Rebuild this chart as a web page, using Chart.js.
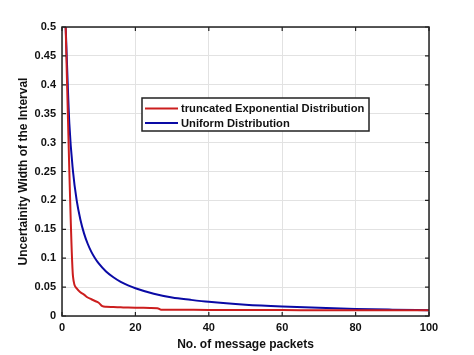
<!DOCTYPE html>
<html>
<head>
<meta charset="utf-8">
<script src="https://cdn.jsdelivr.net/npm/chart.js@4/dist/chart.umd.min.js"></script>
<style>
  html, body { margin: 0; padding: 0; background: #fff; }
  #wrap { position: relative; width: 474px; height: 355px; }
</style>
</head>
<body>
<div id="wrap"><canvas id="mainChart"></canvas></div>
<script>
'use strict';

// values
const truncPackets = [1, 2, 3, 4, 5, 6, 7, 8, 9, 10, 11, 12, 14, 16, 18, 20, 24, 26, 27, 30, 40, 60, 80, 100];
const truncWidth   = [0.5, 0.25, 0.068, 0.048, 0.041, 0.037, 0.032, 0.029, 0.026, 0.023, 0.017, 0.016,
                      0.0155, 0.015, 0.0145, 0.0142, 0.014, 0.0135, 0.011, 0.0108, 0.0105, 0.0102, 0.0101, 0.01];

const uniPackets = [1, 2, 3, 4, 5, 6, 7, 8, 9, 10, 12, 14, 16, 18, 20, 25, 30, 35, 40, 50, 60, 70, 80, 90, 100];
const uniWidth   = [0.5, 0.333, 0.25, 0.2, 0.167, 0.143, 0.125, 0.111, 0.1, 0.091, 0.077, 0.067, 0.059,
                    0.053, 0.048, 0.0385, 0.032, 0.028, 0.0245, 0.0196, 0.0164, 0.0141, 0.0123, 0.011, 0.0099];

const xTicks = [0, 20, 40, 60, 80, 100];
const yTicks = [0, 0.05, 0.1, 0.15, 0.2, 0.25, 0.3, 0.35, 0.4, 0.45, 0.5];
const yTickLabels = ['0', '0.05', '0.1', '0.15', '0.2', '0.25', '0.3', '0.35', '0.4', '0.45', '0.5'];

const seriesLabels = ['truncated Exponential Distribution', 'Uniform Distribution'];
const seriesColors = ['rgb(204,30,30)', 'rgb(10,10,165)'];

const FONT = '"Liberation Sans", Arial, sans-serif';

function toPoints(xs, ys) {
    return xs.map((x, i) => ({ x: x, y: ys[i] }));
}

// MATLAB-like box with inward ticks plus the legend inside the axes
const boxPlugin = {
    id: 'boxPlugin',
    afterDatasetsDraw(chart) {
        const { ctx, chartArea: a, scales } = chart;
        ctx.save();
        ctx.strokeStyle = '#222';
        ctx.lineWidth = 1.5;
        ctx.strokeRect(a.left, a.top, a.right - a.left, a.bottom - a.top);
        ctx.lineWidth = 1.2;
        ctx.beginPath();
        xTicks.forEach(v => {
            const px = scales.x.getPixelForValue(v);
            ctx.moveTo(px, a.bottom); ctx.lineTo(px, a.bottom - 4);
            ctx.moveTo(px, a.top);    ctx.lineTo(px, a.top + 4);
        });
        yTicks.forEach(v => {
            const py = scales.y.getPixelForValue(v);
            ctx.moveTo(a.left, py);  ctx.lineTo(a.left + 4, py);
            ctx.moveTo(a.right, py); ctx.lineTo(a.right - 4, py);
        });
        ctx.stroke();

        // legend
        const lx = 142, ly = 98, lw = 227, lh = 33;
        ctx.fillStyle = '#fff';
        ctx.fillRect(lx, ly, lw, lh);
        ctx.strokeStyle = '#222';
        ctx.lineWidth = 1.5;
        ctx.strokeRect(lx, ly, lw, lh);
        ctx.font = 'bold 11.2px ' + FONT;
        ctx.textBaseline = 'middle';
        ctx.textAlign = 'left';
        chart.data.datasets.forEach((ds, i) => {
            const yy = ly + 10.5 + i * 14.5;
            ctx.strokeStyle = ds.borderColor;
            ctx.lineWidth = 2;
            ctx.beginPath();
            ctx.moveTo(lx + 3, yy); ctx.lineTo(lx + 36, yy);
            ctx.stroke();
            ctx.fillStyle = '#111';
            ctx.fillText(ds.label, lx + 39, yy + 0.5);
        });
        ctx.restore();
    }
};

const chart = new Chart(document.getElementById('mainChart').getContext('2d'), {
    type: 'line',
    data: {
        datasets: [
            { label: seriesLabels[0], data: toPoints(truncPackets, truncWidth) },
            { label: seriesLabels[1], data: toPoints(uniPackets, uniWidth) }
        ].map((ds, i) => Object.assign(ds, {
            borderColor: seriesColors[i],
            backgroundColor: seriesColors[i],
            borderWidth: 2,
            pointRadius: 0,
            fill: false,
            cubicInterpolationMode: 'monotone'
        }))
    },
    options: {
        responsive: true,
        maintainAspectRatio: false,
        animation: false,
        devicePixelRatio: 1,
        layout: { padding: { left: 0, top: 27, right: 45, bottom: 0 } },
        plugins: { legend: { display: false }, tooltip: { enabled: false } },
        scales: {
            x: {
                type: 'linear', min: 0, max: 100,
                afterBuildTicks: s => { s.ticks = xTicks.map(v => ({ value: v })); },
                afterFit: s => { s.height = 39; },
                ticks: { color: '#111', font: { family: FONT, size: 11, weight: 'bold' }, padding: 5, maxRotation: 0 },
                grid: { color: '#e2e2e2', lineWidth: 1, drawTicks: false },
                border: { display: false },
                title: {
                    display: true, text: 'No. of message packets', color: '#111',
                    font: { family: FONT, size: 12, weight: 'bold' }, padding: { top: 0, bottom: 3 }
                }
            },
            y: {
                type: 'linear', min: 0, max: 0.5,
                afterBuildTicks: s => { s.ticks = yTicks.map(v => ({ value: v })); },
                afterFit: s => { s.width = 62; },
                ticks: {
                    color: '#111', font: { family: FONT, size: 11, weight: 'bold' }, padding: 6,
                    callback: (v, i) => yTickLabels[i]
                },
                grid: { color: '#e2e2e2', lineWidth: 1, drawTicks: false },
                border: { display: false },
                title: {
                    display: true, text: 'Uncertainity Width of the Interval', color: '#111',
                    font: { family: FONT, size: 12, weight: 'bold' }, padding: { top: 16, bottom: 0 }
                }
            }
        }
    },
    plugins: [boxPlugin]
});
</script>
</body>
</html>
